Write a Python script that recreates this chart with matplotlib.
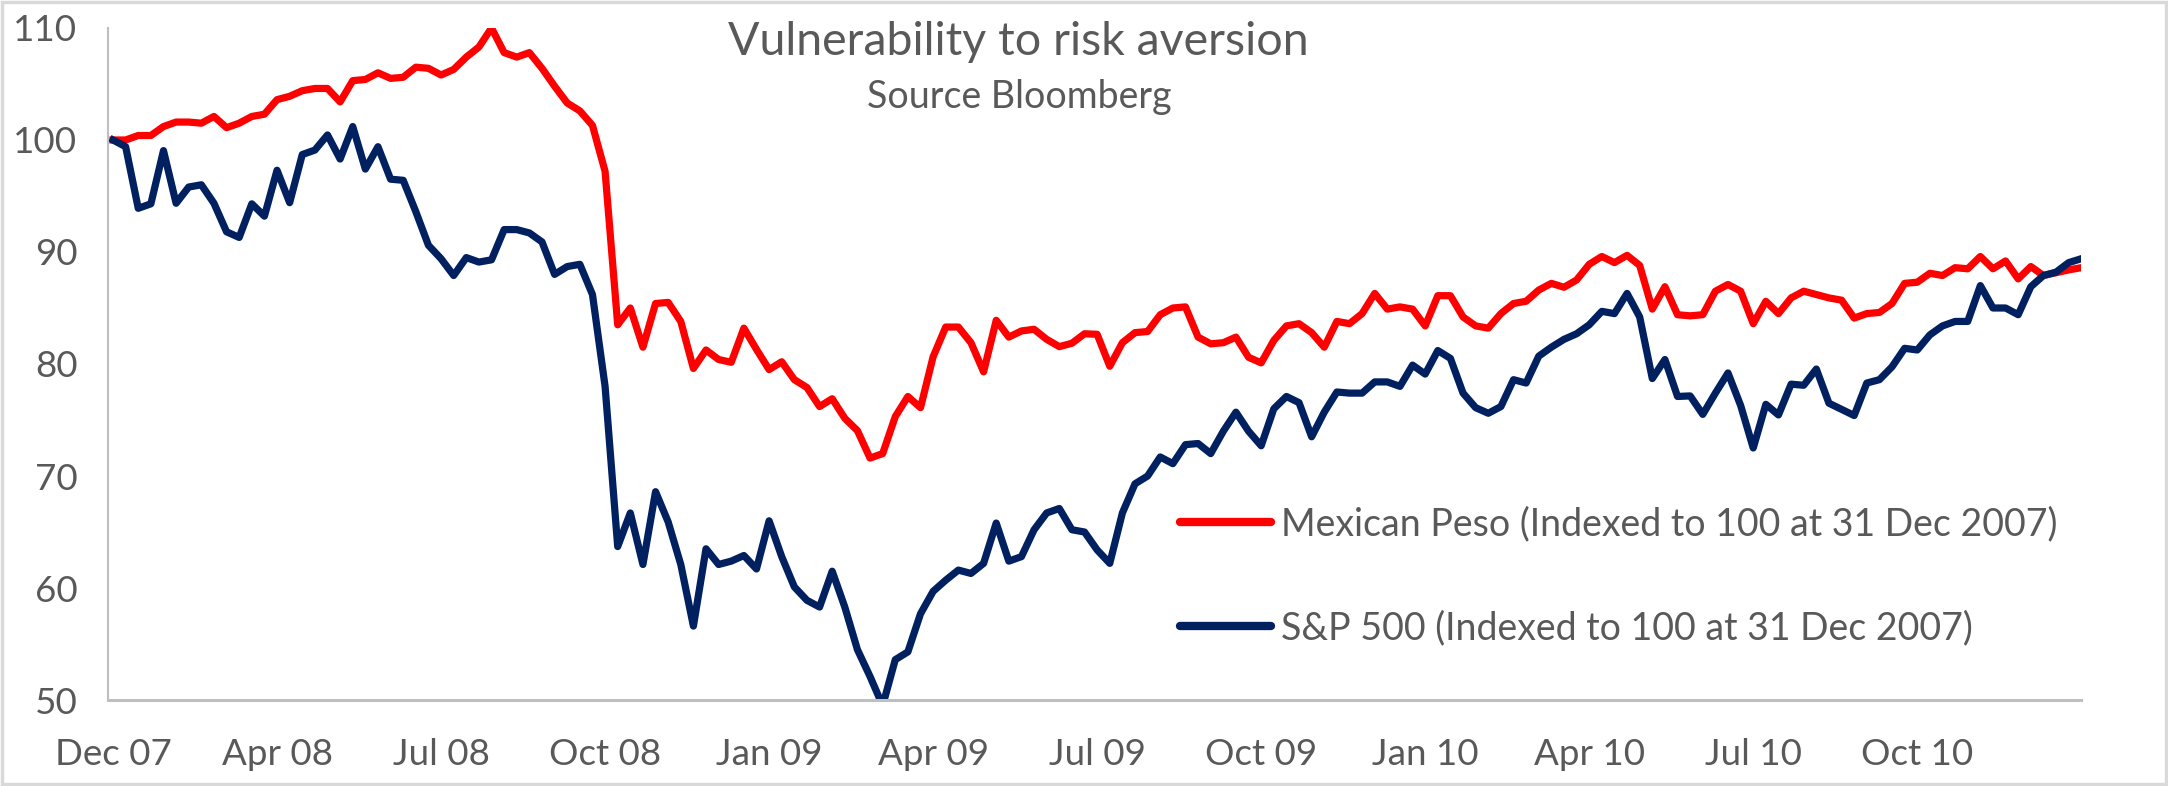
import matplotlib
matplotlib.use("Agg")
import matplotlib.pyplot as plt
from matplotlib.patches import Rectangle

# Weekly index values, Dec 2007 .. Dec 2010 (31 Dec 2007 = 100)
peso = [
    100.0, 100.0, 100.4, 100.4, 101.2, 101.6, 101.6, 101.5, 102.1, 101.1,
    101.5, 102.1, 102.3, 103.6, 103.9, 104.4, 104.6, 104.6, 103.4, 105.3,
    105.4, 106.0, 105.5, 105.6, 106.5, 106.4, 105.8, 106.3, 107.4, 108.3,
    110.0, 107.8, 107.4, 107.8, 106.4, 104.8, 103.3, 102.6, 101.3, 97.2,
    83.5, 85.0, 81.5, 85.4, 85.5, 83.8, 79.6, 81.25, 80.4, 80.15,
    83.2, 81.3, 79.5, 80.2, 78.6, 77.9, 76.2, 76.9, 75.15, 74.05,
    71.6, 72.0, 75.3, 77.1, 76.1, 80.65, 83.3, 83.3, 81.9, 79.3,
    83.9, 82.4, 82.95, 83.1, 82.2, 81.55, 81.85, 82.7, 82.65, 79.8,
    81.9, 82.8, 82.9, 84.4, 85.0, 85.1, 82.4, 81.8, 81.9, 82.4,
    80.6, 80.1, 82.1, 83.4, 83.6, 82.8, 81.5, 83.8, 83.6, 84.5,
    86.3, 84.9, 85.1, 84.9, 83.4, 86.1, 86.1, 84.2, 83.4, 83.2,
    84.5, 85.4, 85.6, 86.6, 87.2, 86.85, 87.5, 88.9, 89.6, 89.05,
    89.7, 88.8, 84.9, 86.9, 84.4, 84.3, 84.4, 86.5, 87.1, 86.5,
    83.6, 85.6, 84.5, 85.9, 86.5, 86.2, 85.9, 85.7, 84.1, 84.5,
    84.6, 85.4, 87.2, 87.3, 88.1, 87.9, 88.6, 88.5, 89.6, 88.5,
    89.2, 87.6, 88.7, 87.9, 88.15, 88.4, 88.6,
]

spx = [
    100.0, 99.4, 93.9, 94.3, 99.05, 94.35, 95.8, 96.0, 94.35, 91.8,
    91.3, 94.3, 93.2, 97.3, 94.4, 98.7, 99.1, 100.45, 98.3, 101.2,
    97.4, 99.4, 96.5, 96.4, 93.6, 90.6, 89.4, 87.9, 89.5, 89.1,
    89.3, 92.0, 92.0, 91.7, 90.9, 88.0, 88.7, 88.9, 86.2, 78.0,
    63.7, 66.7, 62.1, 68.6, 65.9, 62.1, 56.6, 63.5, 62.1, 62.4,
    62.9, 61.7, 66.0, 62.8, 60.1, 58.9, 58.3, 61.5, 58.3, 54.5,
    52.1, 49.5, 53.6, 54.3, 57.7, 59.7, 60.7, 61.6, 61.3, 62.2,
    65.8, 62.4, 62.8, 65.2, 66.7, 67.1, 65.2, 65.0, 63.4, 62.2,
    66.7, 69.3, 70.0, 71.7, 71.1, 72.8, 72.9, 72.0, 74.0, 75.7,
    74.0, 72.7, 76.0, 77.1, 76.55, 73.5, 75.7, 77.5, 77.4, 77.4,
    78.4, 78.4, 78.0, 79.9, 79.1, 81.2, 80.5, 77.4, 76.1, 75.6,
    76.2, 78.6, 78.3, 80.7, 81.5, 82.2, 82.7, 83.5, 84.7, 84.5,
    86.3, 84.2, 78.7, 80.4, 77.1, 77.15, 75.5, 77.4, 79.2, 76.3,
    72.5, 76.4, 75.45, 78.2, 78.1, 79.55, 76.5, 75.95, 75.4, 78.3,
    78.6, 79.75, 81.4, 81.25, 82.6, 83.4, 83.8, 83.8, 87.0, 85.0,
    85.0, 84.4, 86.9, 87.9, 88.2, 89.05, 89.4,
]

tick_labels = ["Dec 07", "Apr 08", "Jul 08", "Oct 08", "Jan 09", "Apr 09",
               "Jul 09", "Oct 09", "Jan 10", "Apr 10", "Jul 10", "Oct 10"]
tick_step = 13  # weeks between labels

title = "Vulnerability to risk aversion"
subtitle = "Source Bloomberg"
peso_label = "Mexican Peso (Indexed to 100 at 31 Dec 2007)"
spx_label = "S&P 500 (Indexed to 100 at 31 Dec 2007)"

plt.rcParams['font.family'] = ['Lato', 'DejaVu Sans']
text_col = '#595959'
axis_col = '#bfbfbf'

fig = plt.figure(figsize=(21.68, 7.86), dpi=100)
ax = fig.add_axes([0.0498, 0.1094, 0.9102, 0.855])

weeks = list(range(len(peso)))
ax.plot(weeks, peso, color='#ff0000', lw=5.2, solid_joinstyle='round',
        label=peso_label)
ax.plot(weeks, spx, color='#002060', lw=5.2, solid_joinstyle='round',
        label=spx_label)

ax.set_xlim(-0.4, len(peso) - 1)
ax.set_ylim(50, 110)
ax.set_yticks(range(50, 111, 10))
ax.set_xticks([i * tick_step for i in range(len(tick_labels))])
ax.set_xticklabels(tick_labels)

ax.tick_params(axis='both', length=0, labelsize=26.5, labelcolor=text_col)
ax.tick_params(axis='y', pad=22)
ax.tick_params(axis='x', pad=27)

for side in ['top', 'right']:
    ax.spines[side].set_visible(False)
ax.spines['left'].set_color(axis_col)
ax.spines['left'].set_linewidth(1.5)
ax.spines['bottom'].set_color(axis_col)
ax.spines['bottom'].set_linewidth(2.2)

fig.text(0.4695, 0.930, title, ha='center', va='baseline',
         fontsize=33.5, color=text_col)
fig.text(0.4700, 0.862, subtitle, ha='center', va='baseline',
         fontsize=27, color=text_col)

leg = fig.legend(loc='upper left', bbox_to_anchor=(0.5443, 0.356),
                 frameon=False, fontsize=27, labelcolor=text_col,
                 handlelength=2.43, handletextpad=0.25, labelspacing=1.82,
                 borderpad=0, borderaxespad=0)
for line in leg.get_lines():
    line.set_linewidth(6)
    line.set_solid_capstyle('round')

# light grey frame round the chart area
fig.add_artist(Rectangle((0.0008, 0.002), 0.9984, 0.996, transform=fig.transFigure,
                         fill=False, edgecolor='#d9d9d9', lw=2.5))

fig.savefig('out.png', dpi=100, facecolor='white')
